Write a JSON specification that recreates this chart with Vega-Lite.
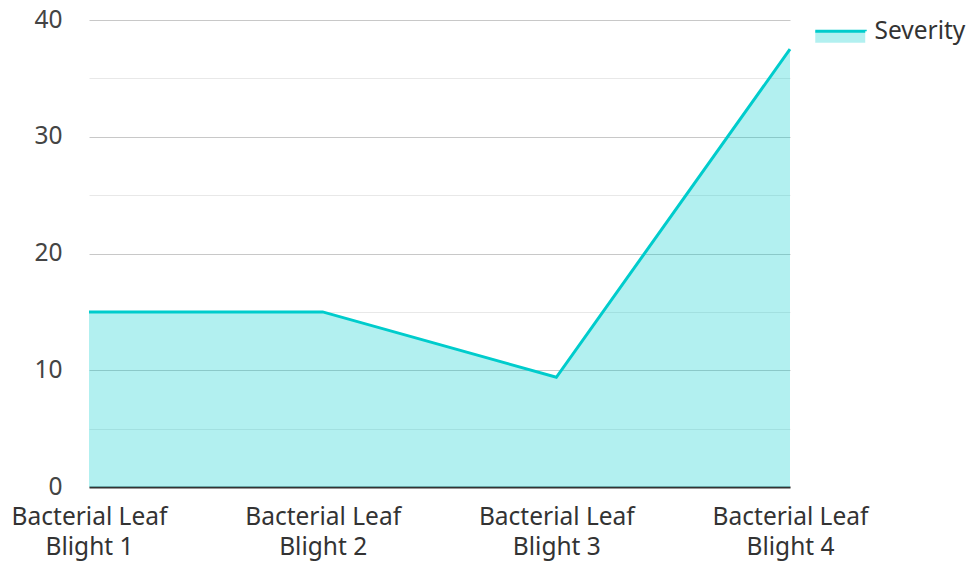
{
  "$schema": "https://vega.github.io/schema/vega-lite/v6.json",
  "width": 701,
  "height": 467,
  "autosize": {"type": "none"},
  "padding": {"left": 89, "top": 20, "right": 179, "bottom": 74},
  "config": {
    "font": "Noto Sans",
    "view": {"stroke": null},
    "legend": {"labelFont": "Noto Sans"}
  },
  "data": {
    "values": [
      {"disease": "Bacterial Leaf Blight 1", "series": "Severity", "value": 15},
      {"disease": "Bacterial Leaf Blight 2", "series": "Severity", "value": 15},
      {"disease": "Bacterial Leaf Blight 3", "series": "Severity", "value": 9.4},
      {"disease": "Bacterial Leaf Blight 4", "series": "Severity", "value": 37.5}
    ]
  },
  "encoding": {
    "x": {
      "field": "disease",
      "type": "ordinal",
      "sort": null,
      "scale": {"type": "point", "padding": 0},
      "axis": {
        "title": null,
        "labelAngle": 0,
        "ticks": false,
        "domainColor": "#333333",
        "domainWidth": 2,
        "labelFontSize": 24.5,
        "labelColor": "#333333",
        "labelPadding": 18,
        "labelLineHeight": 30,
        "labelExpr": "[slice(datum.label, 0, 14), slice(datum.label, 15)]",
        "grid": false
      }
    },
    "y": {
      "field": "value",
      "type": "quantitative",
      "scale": {"domain": [0, 40], "nice": false},
      "axis": {
        "title": null,
        "values": [0, 5, 10, 15, 20, 25, 30, 35, 40],
        "labelExpr": "datum.value % 10 === 0 ? datum.label : ''",
        "ticks": false,
        "domain": false,
        "labelFontSize": 24.5,
        "labelColor": "#444444",
        "labelPadding": 27,
        "grid": true,
        "gridColor": {"condition": {"test": "datum.value % 10 === 0", "value": "#c8c8c8"}, "value": "#e8e8e8"},
        "gridWidth": 1
      }
    }
  },
  "layer": [
    {
      "mark": {"type": "area", "opacity": 0.3, "line": false},
      "encoding": {
        "fill": {
          "field": "series",
          "type": "nominal",
          "scale": {"range": ["#00cccc"]},
          "legend": null
        }
      }
    },
    {
      "mark": {"type": "line", "strokeWidth": 3},
      "encoding": {
        "stroke": {
          "field": "series",
          "type": "nominal",
          "scale": {"range": ["#00cccc"]},
          "legend": {
            "title": null,
            "labelFontSize": 24.5,
            "labelColor": "#333333",
            "labelOffset": 22,
            "offset": 32,
            "symbolType": "M-3.57,-0.14 L3.57,-0.14 L3.57,1.5 L-3.57,1.5 Z",
            "symbolSize": 196,
            "symbolStrokeWidth": 3,
            "symbolDash": [50, 73],
            "encode": {
              "symbols": {
                "update": {
                  "fill": {"value": "#00cccc"},
                  "fillOpacity": {"value": 0.3}
                }
              }
            }
          }
        }
      }
    }
  ]
}
